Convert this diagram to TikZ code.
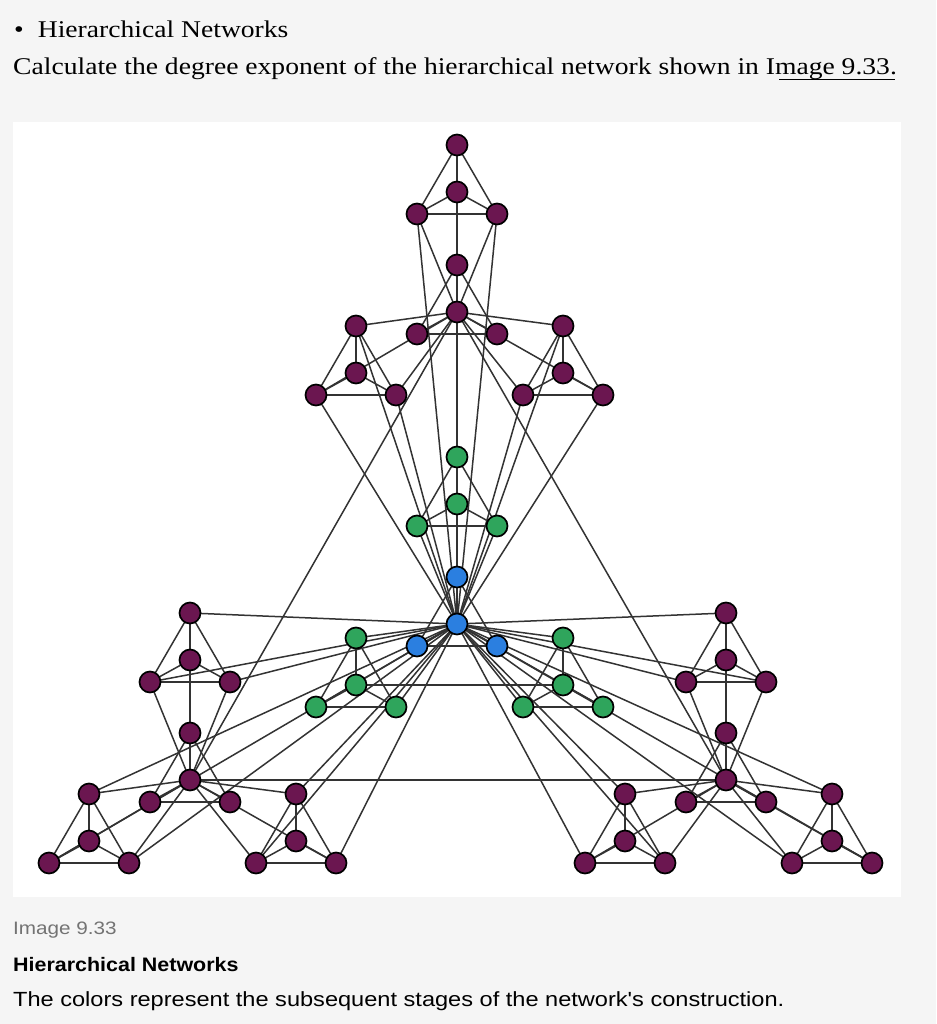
\documentclass[tikz,border=0pt]{standalone}
\usepackage{fontspec}
\setmainfont[FakeStretch=1.15]{Liberation Serif}
\newfontfamily\capfont[FakeStretch=1.15]{Liberation Sans}
\newfontfamily\capfontb[FakeStretch=1.1]{Liberation Sans}
\pgfdeclarelayer{back}\pgfdeclarelayer{bg}\pgfsetlayers{back,bg,main}
\definecolor{pur}{HTML}{6B1650}
\definecolor{grn}{HTML}{2FA55C}
\definecolor{blu}{HTML}{2B7FE0}
\definecolor{pagebg}{HTML}{F5F5F5}
\tikzset{vx/.style={circle,draw=black,line width=1.7pt,minimum size=21pt,inner sep=0pt},
  ed/.style={draw=black!80,line width=1.5pt}}
\begin{document}
\begin{tikzpicture}[x=1pt,y=-1pt]
\begin{pgfonlayer}{back}
\fill[pagebg] (0,0) rectangle (936,1024);
\fill[white] (13,122) rectangle (901,897);
\end{pgfonlayer}
\useasboundingbox (0,0) rectangle (936,1024);
\node[anchor=base west,font=\fontsize{24}{26}\selectfont,inner sep=0] (h1) at (14,38) {\textbullet\hspace{14pt}Hierarchical Networks};
\node[anchor=base west,font=\fontsize{24}{26}\selectfont,inner sep=0] (h2) at (13,75) {Calculate the degree exponent of the hierarchical network shown in Image 9.33.};
\coordinate (ul1) at (779,80); \coordinate (ul2) at (895,80);
\draw[line width=1pt] (ul1) -- (ul2);
\node[anchor=base west,font=\capfont\fontsize{18}{22}\selectfont,text=black!55,inner sep=0] (c1) at (13,934) {Image 9.33};
\node[anchor=base west,font=\capfontb\bfseries\fontsize{19.5}{22}\selectfont,inner sep=0] (c2) at (13,971) {Hierarchical Networks};
\node[anchor=base west,font=\capfont\fontsize{20.5}{22}\selectfont,inner sep=0] (c3) at (13,1006) {The colors represent the subsequent stages of the network's construction.};
% nodes
\foreach \u/\ux/\uy in {0/457/145,1/457/457,2/190/613,3/726/613}{
 \foreach \m/\mx/\my in {0/0/0,1/0/120,2/-101/181,3/106/181}{
  \foreach \k/\kx/\ky in {0/0/0,1/0/47,2/-40/69,3/40/69}{
   \pgfmathsetmacro\col{(\u==1)?((\m==1)?2:1):0}
   \ifcase\col\relax \def\cc{pur}\or\def\cc{grn}\else\def\cc{blu}\fi
   \node[vx,fill=\cc] (n-\u-\m-\k) at (\ux+\mx+\kx,\uy+\my+\ky) {};
  }}}
\begin{pgfonlayer}{bg}
\foreach \u in {0,1,2,3}{\foreach \m in {0,1,2,3}{
  \foreach \a/\b in {0/1,0/2,0/3,1/2,1/3,2/3}{\draw[ed] (n-\u-\m-\a.center) -- (n-\u-\m-\b.center);}}}
\foreach \u in {0,1,2,3}{\foreach \m in {0,2,3}{\foreach \k in {0,2,3}{
  \draw[ed] (n-\u-\m-\k.center) -- (n-\u-1-1.center);}}}
\foreach \u in {0,2,3}{\foreach \m in {0,2,3}{\foreach \k in {0,2,3}{
  \draw[ed] (n-\u-\m-\k.center) -- (n-1-1-1.center);}}}
\foreach \a/\b in {0/2,0/3,2/3}{\draw[ed] (n-\a-1-1.center) -- (n-\b-1-1.center);}
\draw[ed] (n-1-2-1.center) -- (n-1-3-1.center);
\end{pgfonlayer}
\end{tikzpicture}
\end{document}
